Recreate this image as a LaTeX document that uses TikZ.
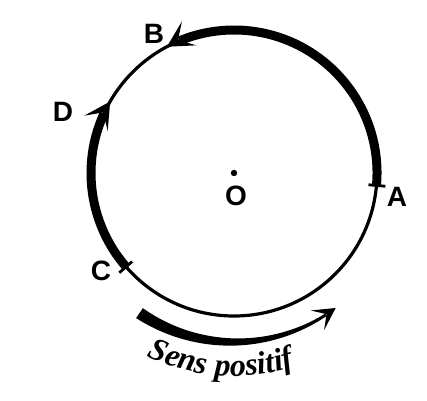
\documentclass[tikz,border=0pt]{standalone}
\usepackage{fontspec}
\setmainfont{Liberation Serif}
\newfontfamily\lblfont{Liberation Sans}
\usetikzlibrary{decorations.text}
\tikzset{
  lbl/.style={font=\lblfont\bfseries\fontsize{28}{28}\selectfont, inner sep=0pt},
  thinarc/.style={line width=3.2pt},
  thickarc/.style={line width=9pt},
  tick/.style={line width=2.8pt},
  barbhead/.pic={\fill (0,0) -- (-26,14) -- (-13,0) -- (-26,-14) -- cycle;}
}
\begin{document}
\begin{tikzpicture}[x=1pt,y=1pt]
\useasboundingbox (0,0) rectangle (427,400);
\coordinate (O) at (234,227);
% thin full circle
\draw[thinarc] (O) circle[radius=143];
% thick arc A -> B
\draw[thickarc,shift={(O)}] (-5:143) arc[start angle=-5,end angle=112.5,radius=143];
\pic[shift={(O)},shift={(118:143)},rotate=211] {barbhead};
% thick arc C -> D
\draw[thickarc,shift={(O)}] (221:143) arc[start angle=221,end angle=155.5,radius=143];
\pic[shift={(O)},shift={(150:143)},rotate=57] {barbhead};
% ticks at A and C
\draw[tick,shift={(O)}] (-5:135) -- (-5:152);
\draw[tick,shift={(O)}] (221:135) -- (221:152);
% centre point
\fill (O) circle[radius=3.2];
% labels
\node[lbl] (lA) at (397,203) {A};
\node[lbl] (lB) at (154,366) {B};
\node[lbl] (lC) at (101,129) {C};
\node[lbl] (lD) at (63,288) {D};
\node[lbl] (lO) at (236,204) {O};
% sens positif arrow (tapered)
\fill[shift={(O)}] plot[domain=236:300,samples=40] (\x:{169+6-4.5*(\x-236)/64})
   -- plot[domain=300:236,samples=40] (\x:{169-6+4.5*(\x-236)/64}) -- cycle;
\draw[line width=3pt,shift={(O)}] (299:169) arc[start angle=299,end angle=303,radius=169];
\pic[shift={(O)},shift={(307:169)},rotate=34,scale=0.85] {barbhead};
% text along arc
\path[shift={(O)},decorate,decoration={text along path,text align=center,
   text={|\bfseries\itshape\fontsize{32}{32}\selectfont|Sens positif}}]
   (238:203) arc[start angle=238,end angle=294,radius=203];
\end{tikzpicture}
\end{document}
